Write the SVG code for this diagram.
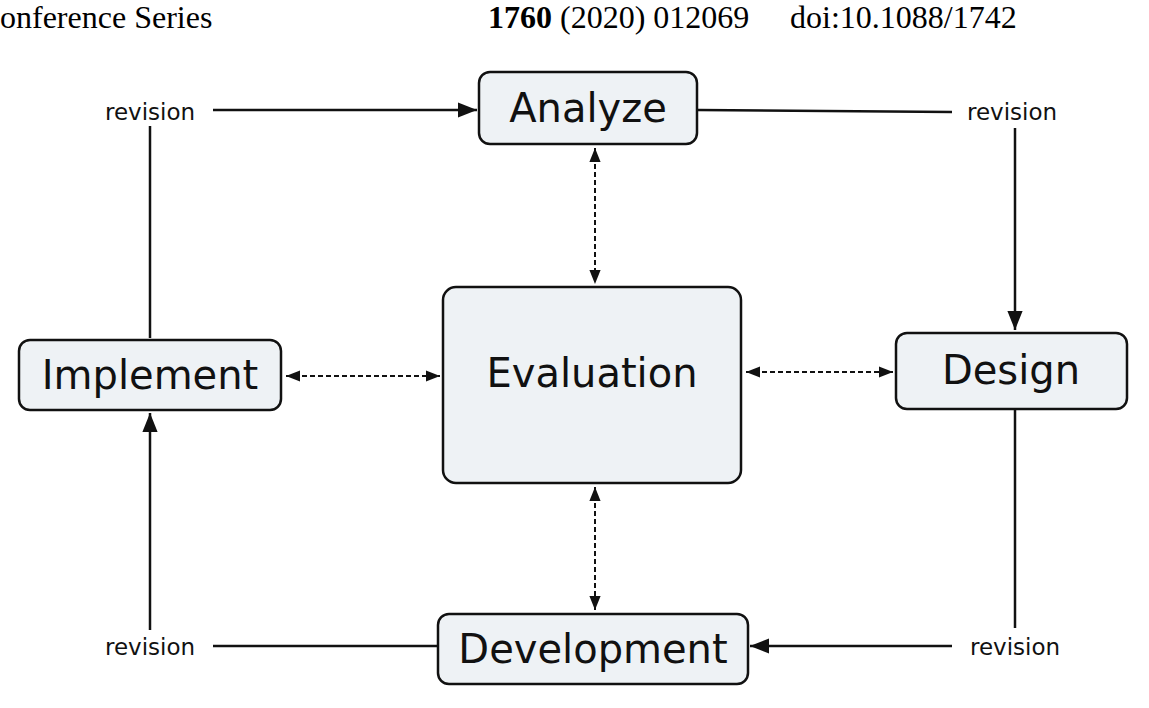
<svg xmlns="http://www.w3.org/2000/svg" width="1149" height="708" viewBox="0 0 1149 708">
<style>
.node rect{fill:#eef2f5;stroke:#111;stroke-width:2.5}
.node text{font-family:"DejaVu Sans",sans-serif;font-size:40px;fill:#111;text-anchor:middle}
.lbl{font-family:"DejaVu Sans",sans-serif;font-size:23px;fill:#111;text-anchor:middle}
.hdr{font-family:"Liberation Serif",serif;font-size:32px;fill:#000}
.c line{stroke:#111;stroke-width:2.5;fill:none}
.c line.d{stroke-dasharray:5 3;stroke-width:2}
</style>
<defs>
<marker id="b" viewBox="0 0 10 10" refX="10" refY="5" markerWidth="14" markerHeight="14" markerUnits="userSpaceOnUse" orient="auto-start-reverse"><path d="M0,1L10,5L0,9z" fill="#111"/></marker>
<marker id="s" viewBox="0 0 10 10" refX="10" refY="5" markerWidth="19" markerHeight="19" markerUnits="userSpaceOnUse" orient="auto-start-reverse"><path d="M0,1L10,5L0,9z" fill="#111"/></marker>
</defs>
<text class="hdr" x="0" y="28">onference Series</text>
<text class="hdr" x="488" y="28"><tspan font-weight="bold">1760</tspan> (2020) 012069</text>
<text class="hdr" x="790" y="28">doi:10.1088/1742</text>
<g class="c">
<line x1="213" y1="110" x2="477" y2="110" marker-end="url(#s)"/>
<line x1="150" y1="126" x2="150" y2="338"/>
<line x1="698" y1="110" x2="952" y2="112"/>
<line x1="1015" y1="128" x2="1015" y2="330" marker-end="url(#s)"/>
<line x1="1015" y1="410" x2="1015" y2="628"/>
<line x1="952" y1="646" x2="750" y2="646" marker-end="url(#s)"/>
<line x1="438" y1="646" x2="213" y2="646"/>
<line x1="150" y1="630" x2="150" y2="413" marker-end="url(#s)"/>
<line class="d" x1="595" y1="148" x2="595" y2="284" marker-start="url(#b)" marker-end="url(#b)"/>
<line class="d" x1="595" y1="487" x2="595" y2="610" marker-start="url(#b)" marker-end="url(#b)"/>
<line class="d" x1="286" y1="376" x2="440" y2="376" marker-start="url(#b)" marker-end="url(#b)"/>
<line class="d" x1="746" y1="372" x2="893" y2="372" marker-start="url(#b)" marker-end="url(#b)"/>
</g>
<text class="lbl" x="150" y="120">revision</text>
<text class="lbl" x="1012" y="120">revision</text>
<text class="lbl" x="150" y="655">revision</text>
<text class="lbl" x="1015" y="655">revision</text>
<g id="analyze" class="node"><rect x="479" y="72" width="218" height="72" rx="11"/><text x="588" y="122">Analyze</text></g>
<g id="evaluation" class="node"><rect x="443" y="287" width="298" height="196" rx="13"/><text x="592" y="387">Evaluation</text></g>
<g id="development" class="node"><rect x="438" y="614" width="310" height="70" rx="11"/><text x="593" y="663">Development</text></g>
<g id="implement" class="node"><rect x="19" y="340" width="262" height="70" rx="11"/><text x="150" y="389">Implement</text></g>
<g id="design" class="node"><rect x="896" y="333" width="231" height="76" rx="11"/><text x="1011" y="384">Design</text></g>
</svg>
